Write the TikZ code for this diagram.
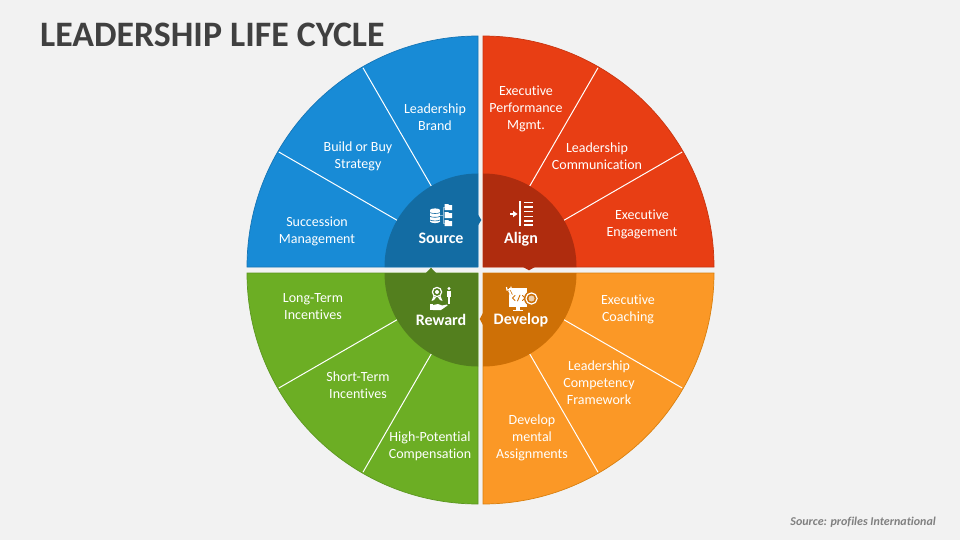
\documentclass[tikz,border=0pt]{standalone}
\usepackage{fontspec}
\usetikzlibrary{calc}
\setmainfont[Ligatures={NoCommon}]{Carlito}
\definecolor{bgc}{HTML}{F2F2F2}
\definecolor{blueA}{HTML}{188BD6}\definecolor{blueB}{HTML}{136CA3}\definecolor{blueE}{HTML}{1675B5}
\definecolor{redA}{HTML}{E83E14}\definecolor{redB}{HTML}{AF2C0E}\definecolor{redE}{HTML}{C93510}
\definecolor{oraA}{HTML}{FB9826}\definecolor{oraB}{HTML}{CE7006}\definecolor{oraE}{HTML}{D9800F}
\definecolor{greA}{HTML}{6CAE24}\definecolor{greB}{HTML}{537F1E}\definecolor{greE}{HTML}{5C9720}
\tikzset{
  lbl/.style={text=white,align=center,font=\fontsize{14}{17}\selectfont,inner sep=0pt},
  hub/.style={text=white,align=center,font=\fontsize{16}{18}\selectfont\bfseries,inner sep=0pt},
  divider/.style={draw=white,line width=1pt},
  iconw/.style={fill=white,draw=none},
}
\begin{document}
\begin{tikzpicture}[x=1pt,y=-1pt]
\useasboundingbox (0,0) rectangle (960,540);
\fill[bgc] (0,0) rectangle (960,540);
% quadrants
\filldraw[fill=blueA,draw=blueE,line width=.7pt] (478,267) -- (247,267) arc[start angle=180,end angle=270,radius=231] -- cycle;
\filldraw[fill=redA,draw=redE,line width=.7pt] (483,267) -- (483,36) arc[start angle=270,end angle=360,radius=231] -- cycle;
\filldraw[fill=oraA,draw=oraE,line width=.7pt] (483,273) -- (714,273) arc[start angle=0,end angle=90,radius=231] -- cycle;
\filldraw[fill=greA,draw=greE,line width=.7pt] (478,273) -- (478,504) arc[start angle=90,end angle=180,radius=231] -- cycle;
% divider ends
\foreach \n/\cx/\cy/\a in {b1/478/267/210,b2/478/267/240,r1/483/267/300,r2/483/267/330,o1/483/273/30,o2/483/273/60,g1/478/273/120,g2/478/273/150}{
  \coordinate (\n i) at ($(\cx,\cy)+(\a:93)$);
  \coordinate (\n o) at ($(\cx,\cy)+(\a:230)$);
}
\foreach \n in {b1,b2,r1,r2,o1,o2,g1,g2} \draw[divider] (\n i) -- (\n o);
% hubs with their small points
\fill[blueB] (478,267) -- (384.5,267) arc[start angle=180,end angle=270,radius=93.5] -- (478,214.5) -- (481.3,220) -- (478,225.5) -- cycle;
\fill[redB] (483,267) -- (483,173.5) arc[start angle=270,end angle=360,radius=93.5] -- (535,267) -- (529,270.3) -- (523,267) -- cycle;
\fill[oraB] (483,273) -- (576.5,273) arc[start angle=0,end angle=90,radius=93.5] -- (483,325) -- (479.7,319) -- (483,313) -- cycle;
\fill[greB] (478,273) -- (478,366.5) arc[start angle=90,end angle=180,radius=93.5] -- (426,273) -- (431,267.7) -- (436,273) -- cycle;
% title and source
\node[anchor=west,inner sep=0pt,text=black!75,font=\fontsize{35.8}{38}\selectfont\bfseries] (title) at (40,35) {LEADERSHIP LIFE CYCLE};
\node[anchor=east,inner sep=0pt,text=black!50,font=\fontsize{12}{14}\selectfont\bfseries\itshape] (source) at (936,522) {Source: profiles International};
% labels
\node[lbl] (l1) at (435,117) {Leadership\\Brand};
\node[lbl] (l2) at (358,156) {Build or Buy\\Strategy};
\node[lbl] (l3) at (317,231) {Succession\\Management};
\node[lbl] (l4) at (526,108.5) {Executive\\Performance\\Mgmt.};
\node[lbl] (l5) at (597,156) {Leadership\\Communication};
\node[lbl] (l6) at (642,224) {Executive\\Engagement};
\node[lbl] (l7) at (628,309) {Executive\\Coaching};
\node[lbl] (l8) at (599,383) {Leadership\\Competency\\Framework};
\node[lbl] (l9) at (532,437.5) {Develop\\mental\\Assignments};
\node[lbl] (l10) at (430,446) {High-Potential\\Compensation};
\node[lbl] (l11) at (358,385) {Short-Term\\Incentives};
\node[lbl] (l12) at (313,306.5) {Long-Term\\Incentives};
\node[hub] (h1) at (441,238.5) {Source};
\node[hub] (h2) at (521,239) {Align};
\node[hub] (h3) at (441,320) {Reward};
\node[hub] (h4) at (521,320) {Develop};
% Source icon
\fill[iconw] (430,210) rectangle (440,221.5);
\fill[iconw] (435,210) ellipse[x radius=5,y radius=1.6];
\fill[iconw] (435,221.5) ellipse[x radius=5,y radius=1.6];
\foreach \y in {212.6,216.4,220}{
  \draw[blueB,line width=.6pt] (430,\y) .. controls (432,\y+1.2) and (438,\y+1.2) .. (440,\y);
}
\draw[white,opacity=.5,line width=.9pt] (440,215) -- (443,215) (443,207) -- (443,223) -- (445,223) (443,207) -- (445,207);
\foreach \y in {204,212,220}{
  \fill[iconw] (444.5,\y+1) -- (444.5,\y) -- (448,\y) -- (449,\y+1) -- (452,\y+1) -- (452,\y+6) -- (444.5,\y+6) -- cycle;
}
% Align icon
\fill[iconw] (509.5,213) rectangle (514,215);
\fill[iconw] (513,210.8) -- (517.5,214) -- (513,217.2) -- cycle;
\fill[iconw] (519,201) rectangle (521,226);
\foreach \y in {202.5,207,211.5,216.5,221,225}{
  \fill[iconw] (523.5,\y-.8) rectangle (533,\y+.8);
}
% Reward icon
\draw[white,line width=1.2pt] (437,292) circle[radius=4.6];
\fill[iconw] (437,292) circle[radius=2];
\fill[iconw] (433.5,296) -- (431.5,301) -- (434,300) -- (436,297.5) -- cycle;
\fill[iconw] (440.5,296) -- (442.5,301) -- (440,300) -- (438,297.5) -- cycle;
\fill[iconw] (449,288.5) circle[radius=1.6];
\fill[iconw] (447,291) rectangle (451,297);
\fill[iconw] (447.7,297) rectangle (450.3,304);
\fill[iconw] (430,304) rectangle (433,310);
\fill[iconw] (433,305) -- (438,304) -- (442,305.5) -- (447,304.5) -- (447.5,305.5) -- (441,310) -- (433,310) -- cycle;
% Develop icon
\fill[iconw] (509,287.5) rectangle (527,307);
\fill[iconw] (516,307) rectangle (520,310);
\fill[iconw] (513,309.5) rectangle (523,310.6);
\fill[oraB] (531.5,298.5) circle[radius=7.5];
\draw[white,line width=1.2pt] (531.5,298.5) circle[radius=5.6];
\fill[white,opacity=.65] (531.5,298.5) circle[radius=3];
\draw[oraB,line width=.9pt,line cap=round] (515,295.5) -- (512.5,298) -- (515,300.5) (517.5,301) -- (520,295) (522.5,295.5) -- (525,298) -- (522.5,300.5);
\draw[oraB,line width=2.6pt] (511.5,295) -- (509,290);
\draw[white,line width=1.8pt] (511.5,296) -- (509,290.5);
\draw[white,line width=1.2pt] (506.5,287) -- (507,290) -- (511,289.5) -- (511,286.5);
\end{tikzpicture}
\end{document}
